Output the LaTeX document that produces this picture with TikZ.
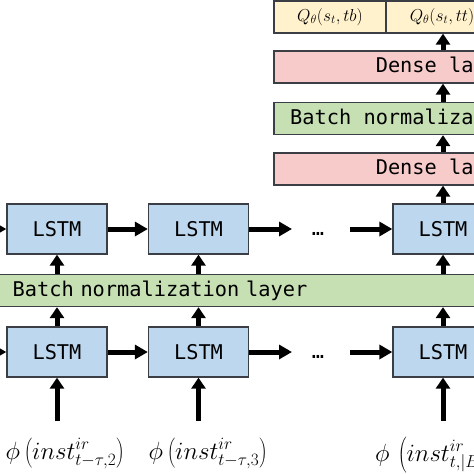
\documentclass[tikz,border=0pt]{standalone}
\usepackage{fontspec}
\setmonofont{DejaVu Sans Mono}
\usetikzlibrary{arrows.meta}
\definecolor{lstmc}{HTML}{BDD7EE}
\definecolor{bnc}{HTML}{C6E0B4}
\definecolor{densec}{HTML}{F8CBCB}
\definecolor{qc}{HTML}{FFF2CC}
\definecolor{bordc}{HTML}{3B3F45}
\begin{document}
\begin{tikzpicture}[x=1pt,y=-1pt,
  box/.style={draw=bordc, line width=1.3pt, inner sep=0pt, font=\ttfamily\fontsize{20.3}{23}\selectfont},
  lstm/.style={box, fill=lstmc, minimum width=100pt, minimum height=50pt},
  bn/.style={box, fill=bnc, minimum height=32pt},
  dense/.style={box, fill=densec, minimum height=32pt, minimum width=338pt},
  qbox/.style={box, fill=qc, minimum height=32pt, minimum width=112pt, font=\fontsize{17}{20}\selectfont},
  harr/.style={line width=5pt, -{Triangle[width=14pt,length=13pt]}},
  varr/.style={line width=5pt, -{Triangle[width=14pt,length=11pt]}},
  lab/.style={inner sep=0pt, font=\fontsize{24}{27}\selectfont},
  dotsn/.style={inner sep=0pt, font=\ttfamily\fontsize{20.3}{23}\selectfont}]
\useasboundingbox (0,0) rectangle (474,474);
\clip (0,0) rectangle (474,474);
\fill[white] (0,0) rectangle (474,474);
% top column
\node[qbox] (q1) at (330,17) {$Q_\theta(s_t,tb)$};
\node[qbox] (q2) at (442,17) {$Q_\theta(s_t,tt)$};
\node[dense] (d2) at (443,67) {Dense layer};
\node[bn, minimum width=338pt] (bnt) at (443,118.5) {Batch normalization layer};
\node[dense] (d1) at (443,169) {Dense layer};
% LSTM rows
\node[lstm] (u1) at (57,229) {LSTM};
\node[lstm] (u2) at (198.5,229) {LSTM};
\node[lstm] (u3) at (443,229) {LSTM};
\node[bn, anchor=west, text width=500pt, align=left, inner xsep=32pt] (bnl) at (-20,290.5) {Batch normalization layer};
\node[lstm] (l1) at (57,352) {LSTM};
\node[lstm] (l2) at (198.5,352) {LSTM};
\node[lstm] (l3) at (443,352) {LSTM};
\node[dotsn, anchor=base] (du) at (318,235) {…};
\node[dotsn, anchor=base] (dl) at (318,358) {…};
% labels
\node[lab, anchor=base] (t1) at (65,459) {$\phi\left(inst^{ir}_{t-\tau,2}\right)$};
\node[lab, anchor=base] (t2) at (208,459) {$\phi\left(inst^{ir}_{t-\tau,3}\right)$};
\node[lab, anchor=base west] (t3) at (375,461) {$\phi\,\left(inst^{ir}_{t,|B_t|}\right)$};
% coordinates for free ends
\coordinate (inu) at (-30,229);
\coordinate (inl) at (-30,352);
\coordinate (u2e) at (292,229);
\coordinate (u3w) at (350,229);
\coordinate (l2e) at (292,352);
\coordinate (l3w) at (350,352);
\coordinate (s1) at (57,421);
\coordinate (s2) at (198.5,421);
\coordinate (s3) at (443,421);
% horizontal arrows
\draw[harr] (inu) -- (u1.west);
\draw[harr] (u1.east) -- (u2.west);
\draw[harr] (u2.east) -- (u2e);
\draw[harr] (u3w) -- (u3.west);
\draw[harr] (inl) -- (l1.west);
\draw[harr] (l1.east) -- (l2.west);
\draw[harr] (l2.east) -- (l2e);
\draw[harr] (l3w) -- (l3.west);
% vertical arrows
\foreach \a/\b in {l1/u1,l2/u2,l3/u3}{
  \draw[varr] (\a.north) -- (\a.north |- bnl.south);
  \draw[varr] (\a.north |- bnl.north) -- (\b.south);
}
\draw[varr] (u3.north) -- (u3.north |- d1.south);
\draw[varr] (d1.north) -- (d1.north |- bnt.south);
\draw[varr] (bnt.north) -- (bnt.north |- d2.south);
\draw[varr] (d2.north) -- (d2.north |- q2.south);
\draw[varr] (s1) -- (l1.south);
\draw[varr] (s2) -- (l2.south);
\draw[varr] (s3) -- (l3.south);
\end{tikzpicture}
\end{document}
